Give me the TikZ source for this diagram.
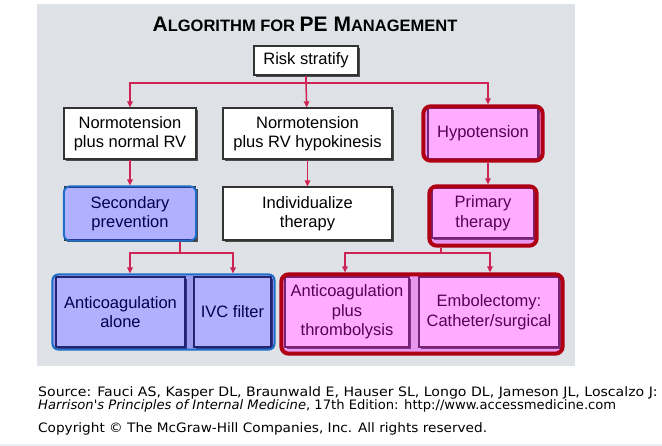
\documentclass[tikz,border=0pt]{standalone}
\usepackage{fontspec,graphicx}
\setmainfont{Liberation Sans}
\newfontfamily\srcfont{DejaVu Sans}
\usetikzlibrary{arrows.meta,positioning,fit,shadows}
\definecolor{panel}{RGB}{222,226,230}
\definecolor{linkred}{RGB}{205,35,85}
\definecolor{framered}{RGB}{175,0,20}
\definecolor{frameblue}{RGB}{30,110,200}
\definecolor{tintpink}{RGB}{255,0,255}
\definecolor{tintblue}{RGB}{0,0,255}
\newcommand{\tbig}{\fontsize{21}{21}\selectfont}
\newcommand{\tsmall}{\fontsize{16.5}{16.5}\selectfont}

\begin{document}
\begin{tikzpicture}[x=1pt,y=-1pt,>={Triangle[length=6pt,width=5.5pt]},
 box/.style={draw=black!80,line width=1.2pt,fill=white,align=center,inner sep=0pt,
  font=\fontsize{16.5}{19.5}\selectfont,
  drop shadow={shadow xshift=2pt,shadow yshift=-2pt,fill=black!70,opacity=1}},
 link/.style={draw=linkred,line width=1.5pt},
 pinkframe/.style={draw=framered,line width=4pt,rounded corners=7pt,fill=tintpink,fill opacity=.33},
 blueframe/.style={draw=frameblue,line width=2pt,rounded corners=6pt,fill=tintblue,fill opacity=.31},
 src/.style={font=\srcfont\fontsize{13}{13}\selectfont,anchor=base west,inner sep=0pt}]
\useasboundingbox(0,0)rectangle(662,446);
\fill[white](0,0)rectangle(662,446);
\fill[panel](37,4)rectangle(575,366);
\fill[panel!60](0,444.5)rectangle(662,446);

\node[font=\bfseries,anchor=base](title)at(305,32){\tbig A\tsmall LGORITHM FOR \tbig PE M\tsmall ANAGEMENT};

% boxes
\node[box,minimum width=104,minimum height=29](risk)at(306,60.5){Risk stratify};
\node[box,minimum width=132,minimum height=51](normal)at(130,133.5){Normotension\\plus normal RV};
\node[box,minimum width=169,minimum height=51](hypok)at(307.5,133.5){Normotension\\plus RV hypokinesis};
\node[box,minimum width=110,minimum height=51](hypo)at(483,133.5){Hypotension};
\node[box,minimum width=131,minimum height=53](second)at(130,213.5){Secondary\\prevention};
\node[box,minimum width=169,minimum height=53](indiv)at(307.5,213.5){Individualize\\therapy};
\node[box,minimum width=102,minimum height=50](prim)at(483,213){Primary\\therapy};
\node[box,minimum width=129,minimum height=70](alone)at(120.5,312){Anticoagulation\\alone};
\node[box,minimum width=77,minimum height=70](ivc)at(232.5,312){IVC filter};
\node[box,minimum width=124,minimum height=70](thromb)at(347,312){Anticoagulation\\plus\\thrombolysis};
\node[box,minimum width=140,minimum height=70](embol)at(489,312){Embolectomy:\\Catheter/surgical};

% coloured frames
\coordinate(primB)at([yshift=-6pt]prim.south);
\coordinate(embolB)at([yshift=-4pt]embol.south);
\node[pinkframe,fit=(hypo),inner xsep=4,inner ysep=1](hypoF){};
\node[pinkframe,fit=(prim)(primB),inner xsep=2,inner ysep=1](primF){};
\node[blueframe,fit=(second),inner sep=0](secF){};
\node[blueframe,fit=(alone)(ivc),inner xsep=3,inner ysep=2](leftF){};
\node[pinkframe,fit=(thromb)(embol)(embolB),inner xsep=3,inner ysep=2](rightF){};

% connectors
\coordinate(rj)at(306,83);
\draw[link](risk)--(rj);
\draw[link,<->](normal)|-(rj)-|([xshift=5pt]hypoF.north);
\draw[link,->](rj)--(hypok);
\draw[link,->](normal)--(secF);
\draw[link,->](hypok)--(indiv);
\draw[link,->]([xshift=5pt]hypoF.south)--([xshift=5pt]primF.north);
\coordinate(sj)at(180,253);\coordinate(sl)at(130,253);\coordinate(sr)at(233,253);
\draw[link](secF.south-|sj)--(sj);
\draw[link,<->](sl|-leftF.north)--(sl)--(sr)--(sr|-leftF.north);
\coordinate(pj)at(441,253);\coordinate(pl)at(345,253);\coordinate(pr)at(490,253);
\draw[link](primF.south-|pj)--(pj);
\draw[link,<->](pl|-rightF.north)--(pl)--(pr)--(pr|-rightF.north);

% source lines
\node[src](src1)at(38,397){\scalebox{1.085}[1]{Source: Fauci AS, Kasper DL, Braunwald E, Hauser SL, Longo DL, Jameson JL, Loscalzo J:}};
\node[src](src2)at(38,410){\scalebox{1.01}[1]{\textit{Harrison's Principles of Internal Medicine}, 17th Edition: http://www.accessmedicine.com}};
\node[src](copyr)at(38,433){\scalebox{1.05}[1]{Copyright © The McGraw-Hill Companies, Inc. All rights reserved.}};
\end{tikzpicture}
\end{document}
